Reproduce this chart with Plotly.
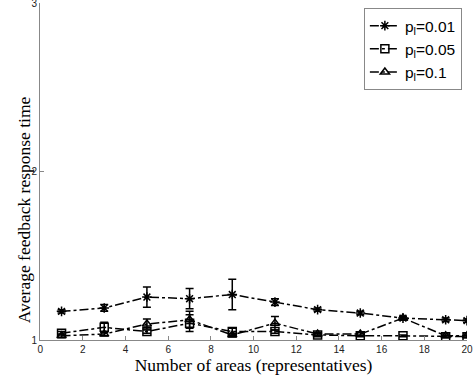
import plotly.graph_objects as go

x = [1, 3, 5, 7, 9, 11, 13, 15, 17, 19, 20]
y_001 = [1.17, 1.19, 1.255, 1.245, 1.27, 1.225, 1.18, 1.16, 1.13, 1.12, 1.115]
e_001 = [0.01, 0.02, 0.06, 0.06, 0.09, 0.02, 0.01, 0.01, 0.01, 0.01, 0.01]
y_005 = [1.04, 1.075, 1.05, 1.10, 1.05, 1.05, 1.03, 1.025, 1.025, 1.02, 1.02]
e_005 = [0.01, 0.03, 0.01, 0.05, 0.02, 0.01, 0.01, 0.005, 0.005, 0.005, 0.005]
y_01 = [1.025, 1.035, 1.095, 1.12, 1.03, 1.10, 1.035, 1.035, 1.13, 1.025, 1.025]
e_01 = [0.01, 0.01, 0.03, 0.05, 0.01, 0.04, 0.01, 0.01, 0.01, 0.01, 0.01]
names = ["p<sub>l</sub>=0.01", "p<sub>l</sub>=0.05", "p<sub>l</sub>=0.1"]
symbols = ["asterisk-open", "square-open", "triangle-up-open"]
x_ticks = [0, 2, 4, 6, 8, 10, 12, 14, 16, 18, 20]
y_ticks = [1, 2, 3]
x_title = "Number of areas (representatives)"
y_title = "Average feedback response time"

fig = go.Figure()
for ys, es, nm, sym in zip([y_001, y_005, y_01], [e_001, e_005, e_01], names, symbols):
    fig.add_trace(go.Scatter(
        x=x, y=ys, name=nm, mode="lines+markers",
        line=dict(color="black", width=1.5, dash="dashdot"),
        marker=dict(symbol=sym, size=8, color="black", line=dict(color="black", width=1.5)),
        error_y=dict(type="data", array=es, visible=True, color="black", thickness=1.5, width=4),
    ))

fig.add_annotation(
    text=y_title, textangle=-90, xref="paper", yref="y",
    x=0, y=1.77, xanchor="center", yanchor="middle", xshift=-16, showarrow=False,
    font=dict(family="Liberation Serif, Times New Roman", size=17.5, color="black"),
)

fig.update_layout(
    width=474, height=384,
    margin=dict(l=40, r=7, t=3, b=44),
    plot_bgcolor="white", paper_bgcolor="white",
    font=dict(family="Liberation Sans, Arial", size=10, color="#222"),
    legend=dict(x=0.988, y=0.985, xanchor="right", yanchor="top",
                bordercolor="#888", borderwidth=1, bgcolor="white", itemwidth=30,
                font=dict(size=15.5, family="Liberation Sans, Arial", color="black")),
    xaxis=dict(range=[-0.01, 20], tickvals=x_ticks, automargin=False,
               ticklabeloverflow="allow",
               ticks="inside", ticklen=4, tickcolor="#888", showgrid=False, zeroline=False,
               showline=True, linecolor="#888", linewidth=1,
               title=dict(text=x_title, standoff=2,
                          font=dict(family="Liberation Serif, Times New Roman", size=17.5, color="black"))),
    yaxis=dict(range=[1, 3], tickvals=y_ticks, automargin=False,
               ticklabeloverflow="allow",
               ticks="inside", ticklen=4, tickcolor="#888", showgrid=False, zeroline=False,
               showline=True, linecolor="#888", linewidth=1),
)
fig.write_html("out.html", config={"displayModeBar": False},
               post_script="document.body.style.margin='0';window.dispatchEvent(new Event('resize'));")
